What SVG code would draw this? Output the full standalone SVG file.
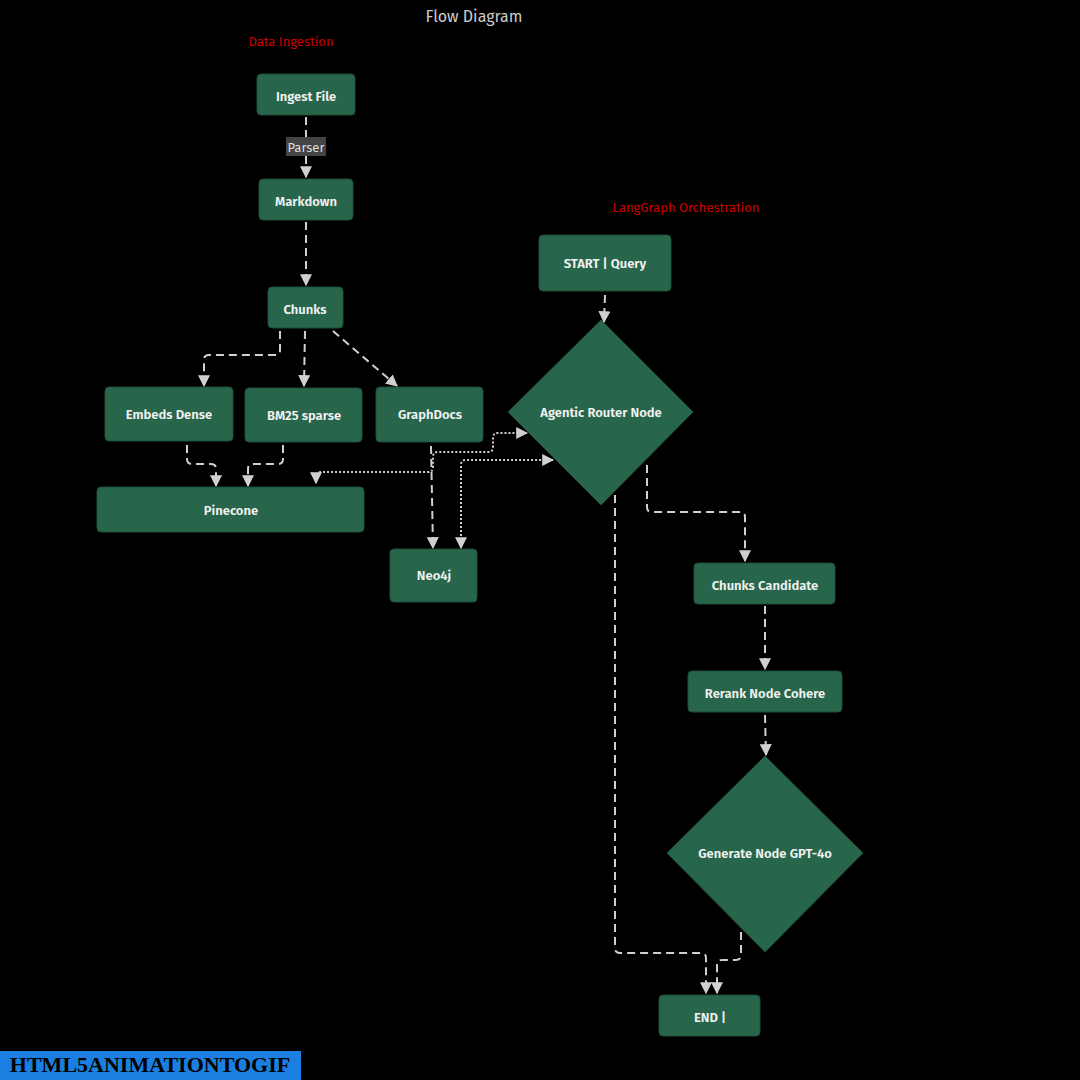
<svg xmlns="http://www.w3.org/2000/svg" width="1080" height="1080" viewBox="0 0 1080 1080">
<style>
.n{fill:#28664b;stroke:#1d4d37;stroke-width:1}
.t{font-family:"Fira Sans","Open Sans","Noto Sans",sans-serif;font-size:13px;font-weight:600;fill:#f2f2f2;text-anchor:middle;dominant-baseline:central}
.e{fill:none;stroke:#d0d0d0;stroke-width:2;stroke-dasharray:8 5;marker-end:url(#a)}
.d{fill:none;stroke:#d0d0d0;stroke-width:2;stroke-dasharray:2 2;marker-end:url(#a);marker-start:url(#a)}
.lbl{font-family:"Fira Sans","Open Sans",sans-serif;font-size:13px;fill:#cc0000;text-anchor:middle}
</style>
<defs>
<marker id="a" viewBox="0 0 10 10" refX="9" refY="5" markerWidth="6" markerHeight="6" orient="auto-start-reverse" markerUnits="strokeWidth"><path d="M0,0 L10,5 L0,10 z" fill="#d0d0d0"/></marker>
</defs>
<rect width="1080" height="1080" fill="#000"/>
<text x="474" y="22" style="font-family:'Fira Sans','Open Sans',sans-serif;font-size:16px;fill:#cccccc;text-anchor:middle">Flow Diagram</text>
<text x="291" y="46" class="lbl">Data Ingestion</text>
<text x="686" y="212" class="lbl">LangGraph Orchestration</text>
<g id="edges">
<path class="e" d="M306,117 L306,177"/>
<path class="e" d="M306,222 L306,285"/>
<path class="e" d="M280,331 L280,350 Q280,355 275,355 L209,355 Q204,355 204,360 L204,386"/>
<path class="e" d="M305,331 L304,386"/>
<path class="e" d="M333,331 L397,386"/>
<path class="e" d="M187,445 L187,459 Q187,464 192,464 L211,464 Q216,464 216,469 L216,486"/>
<path class="e" d="M283,445 L283,459 Q283,464 278,464 L253,464 Q248,464 248,469 L248,486"/>
<path class="e" d="M431,446 L433,548"/>
<path class="e" d="M605,295 L604,322"/>
<path class="e" d="M647,465 L647,507 Q647,512 652,512 L740,512 Q745,512 745,517 L745,561"/>
<path class="e" d="M765,606 L765,669"/>
<path class="e" d="M765,715 L766,755"/>
<path class="e" d="M615,495 L615,948 Q615,953 620,953 L701,953 Q706,953 706,958 L706,993"/>
<path class="e" d="M741,932 L741,955 Q741,960 736,960 L722,960 Q717,960 717,965 L717,993"/>
<path class="d" d="M316,483 L316,477 Q316,472 321,472 L428,472 Q433,472 433,467 L433,457 Q433,452 438,452 L488,452 Q493,452 493,447 L493,438 Q493,433 498,433 L527,433"/>
<path class="d" d="M461,548 L461,465 Q461,460 466,460 L553,460"/>
<rect x="286" y="137" width="40" height="19" fill="#444"/>
<text x="306" y="147" class="t" style="font-weight:400;fill:#ddd">Parser</text>
</g>
<g id="ingest"><rect class="n" x="257" y="74" width="98" height="41" rx="4"/><text class="t" x="306" y="96">Ingest File</text></g>
<g id="markdown"><rect class="n" x="259" y="179" width="94" height="41" rx="4"/><text class="t" x="306" y="201">Markdown</text></g>
<g id="chunks"><rect class="n" x="268" y="287" width="75" height="41" rx="4"/><text class="t" x="305" y="309">Chunks</text></g>
<g id="embeds"><rect class="n" x="105" y="387" width="128" height="54" rx="4"/><text class="t" x="169" y="414">Embeds Dense</text></g>
<g id="bm25"><rect class="n" x="245" y="388" width="117" height="54" rx="4"/><text class="t" x="304" y="415">BM25 sparse</text></g>
<g id="graphdocs"><rect class="n" x="376" y="387" width="107" height="55" rx="4"/><text class="t" x="430" y="414">GraphDocs</text></g>
<g id="pinecone"><rect class="n" x="97" y="487" width="267" height="45" rx="4"/><text class="t" x="231" y="510">Pinecone</text></g>
<g id="neo4j"><rect class="n" x="390" y="549" width="87" height="53" rx="4"/><text class="t" x="434" y="575">Neo4j</text></g>
<g id="start"><rect class="n" x="539" y="235" width="132" height="56" rx="4"/><text class="t" x="605" y="263">START | Query</text></g>
<g id="router"><polygon class="n" points="601,320 693,412 601,505 508,412"/><text class="t" x="601" y="412">Agentic Router Node</text></g>
<g id="candidate"><rect class="n" x="694" y="563" width="141" height="41" rx="4"/><text class="t" x="765" y="585">Chunks Candidate</text></g>
<g id="rerank"><rect class="n" x="688" y="671" width="154" height="41" rx="4"/><text class="t" x="765" y="693">Rerank Node Cohere</text></g>
<g id="generate"><polygon class="n" points="765,756 863,853 765,952 667,853"/><text class="t" x="765" y="853">Generate Node GPT-4o</text></g>
<g id="end"><rect class="n" x="659" y="995" width="101" height="41" rx="4"/><text class="t" x="710" y="1017">END |</text></g>
<rect x="0" y="1051" width="301" height="29" fill="#1a7fe0"/>
<text x="150" y="1072" style="font-family:'Liberation Serif',serif;font-size:22px;font-weight:bold;fill:#000;text-anchor:middle">HTML5ANIMATIONTOGIF</text>
</svg>
